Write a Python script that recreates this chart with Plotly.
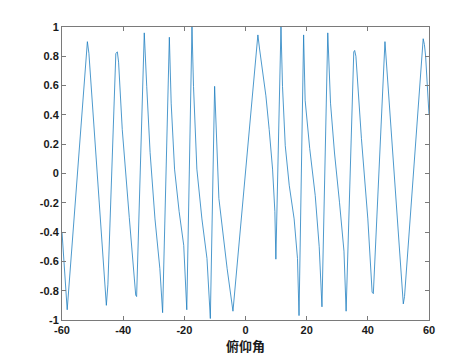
import plotly.graph_objects as go

# elevation angle (deg) and response values
angle = [-60, -59.1, -58.3, -51.7, -51.2, -45.5, -45.0, -42.4, -41.9, -41.5,
         -40.3, -38.0, -35.9, -35.6, -33.1, -32.3, -31.2, -29.6, -28.0, -27.1,
         -24.9, -24.3, -23.2, -21.7, -20.2, -19.2, -17.5, -17.0, -15.9, -14.25,
         -12.6, -11.5, -10.1, -8.7, -6.0, -4.1, 4.05, 4.6, 5.3, 6.67, 7.75,
         8.85, 9.6, 9.93, 11.6, 12.1, 13.0, 14.3, 15.9, 17.0, 17.5, 19.0,
         19.5, 21.0, 22.8, 24.1, 25.0, 26.9, 27.8, 29.1, 30.75, 32.2, 32.9,
         35.4, 35.7, 36.1, 37.9, 40.0, 41.4, 41.8, 45.6, 51.3, 51.6, 52.0,
         58.1, 58.5, 58.9, 60]
response = [-0.40, -0.67, -0.93, 0.90, 0.82, -0.90, -0.76, 0.82, 0.83, 0.76,
            0.30, -0.30, -0.83, -0.84, 0.96, 0.595, 0.144, -0.31, -0.65, -0.95,
            0.93, 0.48, 0.03, -0.26, -0.49, -0.93, 1.0, 0.595, 0.03, -0.31,
            -0.58, -0.99, 0.595, -0.17, -0.65, -0.94, 0.946, 0.85, 0.75, 0.53, 0.30,
            0.03, -0.26, -0.585, 1.0, 0.595, 0.19, -0.08, -0.31, -0.58, -0.97, 0.946,
            0.50, 0.17, -0.15, -0.50, -0.91, 0.96, 0.48, 0.14, -0.20, -0.53, -0.94,
            0.83, 0.84, 0.80, 0.24, -0.31, -0.81, -0.82, 0.90, -0.87, -0.89, -0.84,
            0.92, 0.88, 0.80, 0.40]

x_ticks = [-60, -40, -20, 0, 20, 40, 60]
x_tick_labels = ["-60", "-40", "-20", "0", "20", "40", "60"]
y_ticks = [-1, -0.8, -0.6, -0.4, -0.2, 0, 0.2, 0.4, 0.6, 0.8, 1]
y_tick_labels = ["-1", "-0.8", "-0.6", "-0.4", "-0.2", "0", "0.2", "0.4", "0.6", "0.8", "1"]
x_title = "俯仰角"

fig = go.Figure()
fig.add_trace(go.Scatter(x=angle, y=response, mode="lines",
                         line=dict(color="#1f7fc0", width=0.8)))

axis_common = dict(showgrid=False, zeroline=False, showline=True, linecolor="#7a7a7a",
                   linewidth=1, mirror="ticks", ticks="inside", ticklen=4,
                   tickcolor="#7a7a7a", tickwidth=1,
                   tickfont=dict(family="Liberation Sans", size=11, color="#1a1a1a", weight="bold"))

# the page body adds an 8px offset, so the figure is sized/margined to compensate
fig.update_layout(
    width=466, height=353,
    margin=dict(l=54, r=45, t=19, b=39),
    paper_bgcolor="white", plot_bgcolor="white",
    showlegend=False,
    xaxis=dict(range=[-60, 60], tickvals=x_ticks, ticktext=x_tick_labels,
               title=dict(text=x_title, standoff=4,
                          font=dict(family="Noto Sans CJK SC", size=13, color="#1a1a1a", weight="bold")),
               **axis_common),
    yaxis=dict(range=[-1, 1], tickvals=y_ticks, ticktext=y_tick_labels, **axis_common),
)

fig.write_html("out.html")
